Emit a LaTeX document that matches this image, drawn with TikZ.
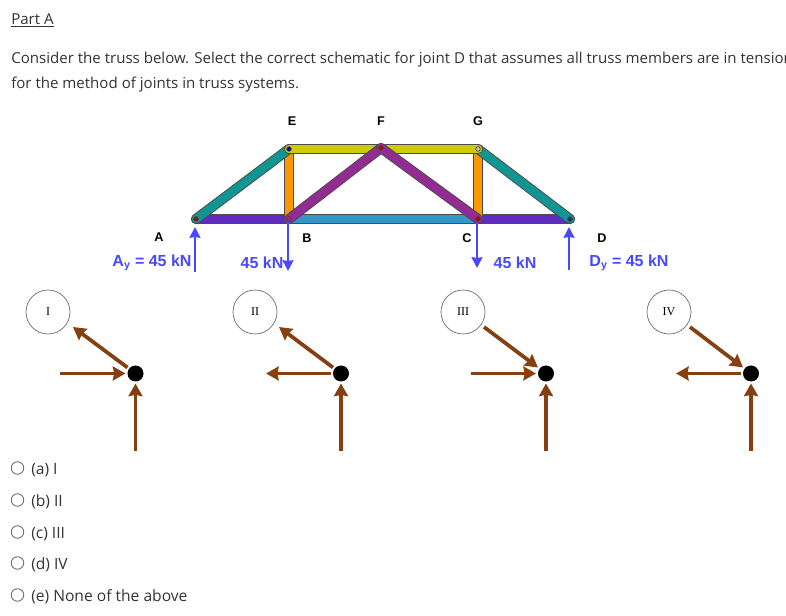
\documentclass[tikz,border=0pt]{standalone}
\usepackage{fontspec}
\setmainfont{Open Sans}
\newfontfamily\labelfont{Liberation Sans}
\newfontfamily\romanfont{Liberation Serif}
\usetikzlibrary{arrows.meta}
\definecolor{textc}{RGB}{51,51,51}
\definecolor{loadc}{RGB}{72,72,255}
\definecolor{forcec}{RGB}{133,63,16}
\definecolor{barpurple}{RGB}{98,42,196}
\definecolor{barblue}{RGB}{48,150,204}
\definecolor{barteal}{RGB}{16,150,146}
\definecolor{barorange}{RGB}{255,152,0}
\definecolor{baryellow}{RGB}{204,204,0}
\definecolor{barmagenta}{RGB}{146,44,146}
\tikzset{
    txt/.style={anchor=base west,inner sep=0pt,text=textc,font=\fontsize{11.3}{13}\selectfont},
    opt/.style={anchor=base west,inner sep=0pt,text=textc,font=\fontsize{11.7}{13}\selectfont},
    bar/.style={draw=black!70,line width=0.7pt,double=#1,double distance=6.2pt,line cap=round},
    pin/.style={shape=circle,draw=black!75,fill=#1,line width=0.5pt,inner sep=0pt,minimum size=3.5pt},
    load/.style={draw=loadc,line width=2.2pt,-{Stealth[length=8pt,width=8pt,inset=0.5pt]}},
    letter/.style={inner sep=0pt,font=\labelfont\bfseries\fontsize{9.5}{10}\selectfont},
    loadtxt/.style={inner sep=0pt,text=loadc,font=\labelfont\bfseries\fontsize{12}{13}\selectfont},
    tag/.style={shape=circle,draw=black!60,line width=0.5pt,minimum size=33pt,inner sep=0pt,font=\romanfont\fontsize{9}{10}\selectfont},
    joint/.style={shape=circle,fill=black,inner sep=0pt,minimum size=12pt,outer sep=1.5pt},
    force/.style={draw=forcec,line width=2.8pt,-{Stealth[length=9.5pt,width=10.5pt,inset=1pt]}},
    radio/.style={shape=circle,draw=black!55,line width=0.7pt,inner sep=0pt,minimum size=9.4pt}
}
\begin{document}
\begin{tikzpicture}[x=0.75pt,y=-0.75pt]
    \useasboundingbox (0,0) rectangle (786,616);
    \clip (0,0) rectangle (786,616);

    % question text
    \node[txt] (part) at (11,24.5) {\underline{Part A}};
    \node[txt] (line1) at (11,64) {Consider the truss below. Select the correct schematic for joint D that assumes all truss members are in tension};
    \node[txt] (line2) at (11,89) {for the method of joints in truss systems.};

    % truss joints
    \coordinate (A) at (196,219);
    \coordinate (B) at (289,219);
    \coordinate (C) at (478,219);
    \coordinate (D) at (570,219);
    \coordinate (E) at (289,149);
    \coordinate (F) at (381,148);
    \coordinate (G) at (478,149);

    \draw [bar=barpurple] (A) -- (B);
    \draw [bar=barblue] (B) -- (C);
    \draw [bar=barpurple] (C) -- (D);
    \draw [bar=barorange] (E) -- (B);
    \draw [bar=barorange] (G) -- (C);
    \draw [bar=barteal] (A) -- (E);
    \draw [bar=barteal] (G) -- (D);
    \draw [bar=baryellow] (E) -- (G);
    \draw [bar=barmagenta] (B) -- (F);
    \draw [bar=barmagenta] (F) -- (C);

    \node[pin=red!75!black] (pinA) at (A) {};
    \node[pin=barmagenta] (pinB) at (B) {};
    \node[pin=red!75!black] (pinC) at (C) {};
    \node[pin=barpurple!70!black] (pinD) at (D) {};
    \node[pin=blue!70!black] (pinE) at (E) {};
    \node[pin=red!75!black] (pinF) at (F) {};
    \node[pin=black!25] (pinG) at (G) {};

    \node[letter] (labA) at (159,237) {A};
    \node[letter] (labB) at (307,238) {B};
    \node[letter] (labC) at (467,238) {C};
    \node[letter] (labD) at (602,238) {D};
    \node[letter] (labE) at (292,121) {E};
    \node[letter] (labF) at (381,121) {F};
    \node[letter] (labG) at (478,121) {G};

    % loads
    \coordinate (ay) at (195,272);
    \coordinate (ayend) at (195,227);
    \coordinate (by) at (288,222);
    \coordinate (byend) at (288,271);
    \coordinate (cy) at (477,222);
    \coordinate (cyend) at (477,268);
    \coordinate (dy) at (569,270);
    \coordinate (dyend) at (569,227);
    \draw [load] (ay) -- (ayend);
    \draw [load] (by) -- (byend);
    \draw [load] (cy) -- (cyend);
    \draw [load] (dy) -- (dyend);

    \node[loadtxt] (txtA) at (152,263) {A\textsubscript{y} = 45 kN};
    \node[loadtxt] (txtB) at (262,262.5) {45 kN};
    \node[loadtxt] (txtC) at (515,262.5) {45 kN};
    \node[loadtxt] (txtD) at (629,263) {D\textsubscript{y} = 45 kN};

    % schematics
    \node[tag] (t1) at (48,312) {I};
    \node[tag] (t2) at (255,312) {II};
    \node[tag] (t3) at (463,312) {III};
    \node[tag] (t4) at (669,312) {IV};

    \node[joint] (j1) at (135.5,373.5) {};
    \node[joint] (j2) at (341,373.5) {};
    \node[joint] (j3) at (546,373.5) {};
    \node[joint] (j4) at (751,373.5) {};

    \coordinate (a1) at (73,327);
    \coordinate (b1) at (60,373.5);
    \coordinate (c1) at (135.5,451);
    \coordinate (a2) at (279,327);
    \coordinate (b2) at (266,373.5);
    \coordinate (c2) at (341,451);
    \coordinate (a3) at (484,327);
    \coordinate (b3) at (471,373.5);
    \coordinate (c3) at (546,451);
    \coordinate (a4) at (690,327);
    \coordinate (b4) at (676,373.5);
    \coordinate (c4) at (751,451);

    \draw [force] (j1) -- (a1);
    \draw [force] (b1) -- (j1);
    \draw [force] (c1) -- (j1);
    \draw [force] (j2) -- (a2);
    \draw [force] (j2) -- (b2);
    \draw [force] (c2) -- (j2);
    \draw [force] (a3) -- (j3);
    \draw [force] (b3) -- (j3);
    \draw [force] (c3) -- (j3);
    \draw [force] (a4) -- (j4);
    \draw [force] (j4) -- (b4);
    \draw [force] (c4) -- (j4);

    % answers
    \node[radio] (r1) at (17.5,468) {};
    \node[radio] (r2) at (17.5,500) {};
    \node[radio] (r3) at (17.5,532) {};
    \node[radio] (r4) at (17.5,563) {};
    \node[radio] (r5) at (17.5,595) {};
    \node[opt] (o1) at (31,475) {(a) I};
    \node[opt] (o2) at (31,507) {(b) II};
    \node[opt] (o3) at (31,539) {(c) III};
    \node[opt] (o4) at (31,570) {(d) IV};
    \node[opt] (o5) at (31,602) {(e) None of the above};
\end{tikzpicture}
\end{document}
